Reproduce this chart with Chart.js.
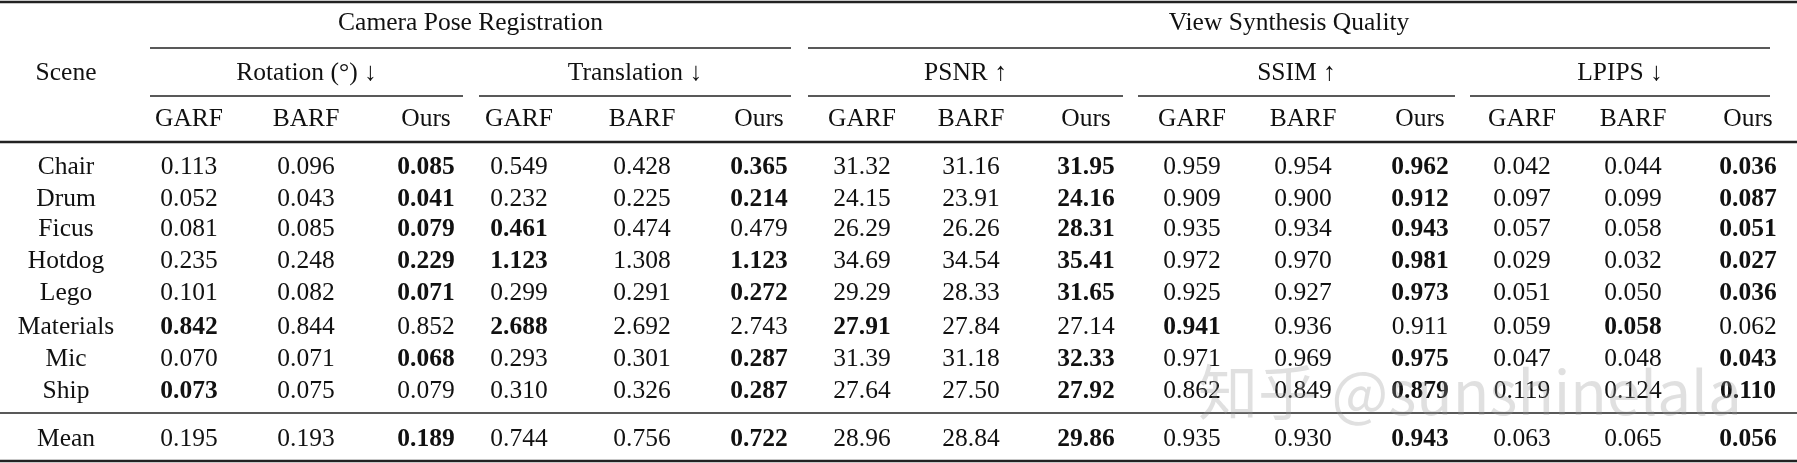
<!DOCTYPE html>
<html><head><meta charset="utf-8">
<script src="https://cdn.jsdelivr.net/npm/chart.js@4/dist/chart.umd.min.js"></script>
<style>html,body{margin:0;padding:0;background:#fff;overflow:hidden}</style>
</head><body>
<canvas id="c" width="1797" height="463"></canvas>
<script>
const groups = ["Camera Pose Registration", "View Synthesis Quality"];
const metrics = ["Rotation (°) ↓", "Translation ↓", "PSNR ↑", "SSIM ↑", "LPIPS ↓"];
const methods = ["GARF", "BARF", "Ours"];
const scenes = ["Chair","Drum","Ficus","Hotdog","Lego","Materials","Mic","Ship"];
const chair    = ["0.113","0.096","0.085","0.549","0.428","0.365","31.32","31.16","31.95","0.959","0.954","0.962","0.042","0.044","0.036"];
const drum     = ["0.052","0.043","0.041","0.232","0.225","0.214","24.15","23.91","24.16","0.909","0.900","0.912","0.097","0.099","0.087"];
const ficus    = ["0.081","0.085","0.079","0.461","0.474","0.479","26.29","26.26","28.31","0.935","0.934","0.943","0.057","0.058","0.051"];
const hotdog   = ["0.235","0.248","0.229","1.123","1.308","1.123","34.69","34.54","35.41","0.972","0.970","0.981","0.029","0.032","0.027"];
const lego     = ["0.101","0.082","0.071","0.299","0.291","0.272","29.29","28.33","31.65","0.925","0.927","0.973","0.051","0.050","0.036"];
const materials= ["0.842","0.844","0.852","2.688","2.692","2.743","27.91","27.84","27.14","0.941","0.936","0.911","0.059","0.058","0.062"];
const mic      = ["0.070","0.071","0.068","0.293","0.301","0.287","31.39","31.18","32.33","0.971","0.969","0.975","0.047","0.048","0.043"];
const ship     = ["0.073","0.075","0.079","0.310","0.326","0.287","27.64","27.50","27.92","0.862","0.849","0.879","0.119","0.124","0.110"];
const mean     = ["0.195","0.193","0.189","0.744","0.756","0.722","28.96","28.84","29.86","0.935","0.930","0.943","0.063","0.065","0.056"];
const boldIdx = [[2,5,8,11,14],[2,5,8,11,14],[2,3,8,11,14],[2,3,5,8,11,14],[2,5,8,11,14],[0,3,6,9,13],[2,5,8,11,14],[0,5,8,11,14],[2,5,8,11,14]];
const rows = [chair,drum,ficus,hotdog,lego,materials,mic,ship,mean];

const colX = [189,306,426,519,642,759,862,971,1086,1192,1303,1420,1522,1633,1748];
const sceneX = 66;
const rowY = [167,199,229,261,293,327,359,391,439];
const metricSpan = [[150,463],[479,791],[808,1123],[1138,1455],[1470,1770]];
const groupSpan = [[150,791],[808,1770]];

const tablePlugin = {
  id:'table',
  afterDraw(chart){
    const ctx = chart.ctx, xs = chart.scales.x, ys = chart.scales.y;
    const X = v=>xs.getPixelForValue(v), Y = v=>ys.getPixelForValue(v);
    ctx.save();
    ctx.fillStyle='#111'; ctx.strokeStyle='#222';
    const rule=(x1,x2,y,w)=>{ctx.lineWidth=w;ctx.beginPath();ctx.moveTo(X(x1),Y(y));ctx.lineTo(X(x2),Y(y));ctx.stroke();};
    rule(0,1797,2,2.5); rule(0,1797,142,2.5); rule(0,1797,413,1.3); rule(0,1797,461,2.5);
    groupSpan.forEach(s=>rule(s[0],s[1],48,1.3));
    metricSpan.forEach(s=>rule(s[0],s[1],96,1.3));
    ctx.textAlign='center'; ctx.textBaseline='middle';
    const font=b=>(b?'bold ':'')+'25.5px "Liberation Serif", "DejaVu Serif", serif';
    ctx.font=font(false);
    groups.forEach((g,i)=>ctx.fillText(g,X((groupSpan[i][0]+groupSpan[i][1])/2),Y(23)));
    metrics.forEach((m,i)=>ctx.fillText(m,X((metricSpan[i][0]+metricSpan[i][1])/2),Y(73)));
    ctx.fillText("Scene",X(sceneX),Y(73));
    colX.forEach((x,i)=>ctx.fillText(methods[i%3],X(x),Y(119)));
    rows.forEach((r,ri)=>{
      ctx.font=font(false);
      ctx.fillText(ri<scenes.length?scenes[ri]:"Mean",X(sceneX),Y(rowY[ri]));
      r.forEach((v,ci)=>{ctx.font=font(boldIdx[ri].includes(ci));ctx.fillText(v,X(colX[ci]),Y(rowY[ri]));});
    });
    ctx.globalAlpha=0.3; ctx.fillStyle='#999';
    ctx.font='60px "Noto Sans CJK SC", sans-serif'; ctx.textAlign='left';
    ctx.fillText("知乎 @sunshinelala",X(1198),Y(392));
    ctx.restore();
  }
};

new Chart(document.getElementById('c'),{
  type:'scatter',
  data:{datasets:[{data:rows.flatMap((r,ri)=>r.map((v,ci)=>({x:colX[ci],y:rowY[ri]}))),pointRadius:0}]},
  options:{responsive:false,animation:false,layout:{padding:0},
    plugins:{legend:{display:false},tooltip:{enabled:false}},
    scales:{x:{type:'linear',min:0,max:1797,display:false},y:{type:'linear',min:0,max:463,reverse:true,display:false}}},
  plugins:[tablePlugin]
});
</script>
</body></html>
